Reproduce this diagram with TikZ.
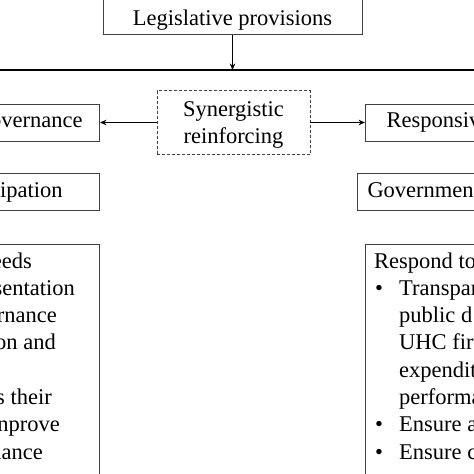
\documentclass[tikz,border=0pt]{standalone}
\usepackage{fontspec}
\setmainfont{Liberation Serif}
\usetikzlibrary{arrows.meta,positioning}

\begin{document}
\begin{tikzpicture}[x=1pt, y=-1pt,
    every node/.style={font=\fontsize{22.5}{27.3}\selectfont, inner sep=0pt},
    box/.style={rectangle, draw=black!75, line width=1pt, minimum height=37pt, text height=15.5pt, text depth=5pt, inner ysep=8.25pt},
    synbox/.style={rectangle, draw=black!75, line width=0.8pt, dash pattern=on 3pt off 2pt, minimum width=153pt, minimum height=64pt, align=center},
    txtL/.style={anchor=base west},
    txtR/.style={anchor=base east},
    arrow/.style={-{Stealth[length=6.5pt,width=5.5pt]}, line width=1.3pt}
]
\useasboundingbox (0,0) rectangle (474,474);
\clip (0,0) rectangle (474,474);

% Top
\node[box, anchor=south, minimum width=259pt, text height=25pt, inner ysep=4.3pt] (legis) at (232.5,35) {Legislative provisions};
\coordinate (busW) at (0,70);
\coordinate (busE) at (474,70);
\draw[line width=1.6pt] (busW) -- (busE);
\draw[arrow] (legis.south) -- (legis.south |- busW);

% Middle row
\node[synbox] (syn) at (233.5,122.5) {\rule{0pt}{20.5pt}Synergistic\\reinforcing};
\node[box, anchor=east, inner xsep=17pt] (gov) at (100,122.5) {Governance};
\node[box, anchor=west, inner xsep=21pt] (resp) at (365,122.5) {Responsiv};
\draw[arrow] (syn.west) -- (gov.east);
\draw[arrow] (syn.east) -- (resp.west);

% Second row
\node[box, anchor=east, inner xsep=37pt] (part) at (100,192) {ipation};
\node[box, anchor=west, inner xsep=10pt] (govt) at (357,192) {Governmen};

% Lower boxes
\node[box, anchor=north east, minimum width=200pt, minimum height=260pt] (needs) at (100,244) {};
\node[box, anchor=north west, minimum width=200pt, minimum height=260pt] (respond) at (365,244) {};

% Left text (cut at the edge)
\foreach \txt/\xr/\k in {eeds/32/0, sentation/75/1, rnance/57/2, on and/56/3, s their/52/5, nprove/60/6, nance/43/7}
  \node[txtR] (needs-\k) at (\xr,268+27.3*\k) {\txt};

% Right text
\node[txtL] (respond-0) at (374,268) {Respond to};
\foreach \txt/\k in {Transpar/1, public d/2, UHC fir/3, expendit/4, performa/5, Ensure a/6, Ensure c/7}
  \node[txtL] (respond-\k) at (399,268+27.3*\k) {\txt};
\foreach \k in {1,6,7}
  \node[txtL] (dot-\k) at (375,268+27.3*\k) {\textbullet};

\end{tikzpicture}
\end{document}
